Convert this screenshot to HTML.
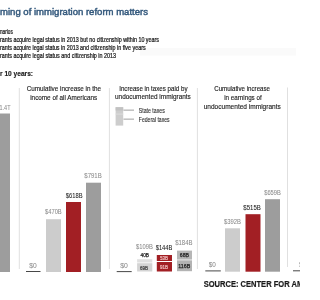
<!DOCTYPE html>
<html><head><meta charset="utf-8">
<style>
html,body{margin:0;padding:0;background:#fff;width:300px;height:300px;overflow:hidden}
svg{display:block;will-change:transform}
text{font-family:"Liberation Sans",sans-serif}
</style></head>
<body>
<svg width="300" height="300" viewBox="0 0 300 300">
<rect x="0" y="0" width="300" height="300" fill="#fff"/>
<rect x="140" y="48" width="156" height="7.5" fill="#fafafa"/>
<text x="0" y="15" textLength="148" lengthAdjust="spacingAndGlyphs" font-size="9.3" fill="#33587c" stroke="#33587c" stroke-width="0.45">ming of immigration reform matters</text>
<g font-size="6.5" fill="#161616" stroke="#161616" stroke-width="0.22">
<text x="0" y="33.6" textLength="12.8" lengthAdjust="spacingAndGlyphs" >narios</text>
<text x="0" y="41.8" textLength="159" lengthAdjust="spacingAndGlyphs" >rants acquire legal status in 2013 but no citizenship within 10 years</text>
<text x="0" y="49.5" textLength="145.6" lengthAdjust="spacingAndGlyphs" >rants acquire legal status in 2013 and citizenship in five years</text>
<text x="0" y="57.7" textLength="116" lengthAdjust="spacingAndGlyphs" >rants acquire legal status and citizenship in 2013</text>
</g>
<text x="0" y="75.7" textLength="33" lengthAdjust="spacingAndGlyphs" font-size="8" font-weight="bold" fill="#1a1a1a" stroke="#1a1a1a" stroke-width="0.15">r 10 years:</text>
<g fill="#e0e0e0">
<rect x="18.8" y="88" width="1" height="181"/>
<rect x="108.9" y="88" width="1" height="181"/>
<rect x="196.9" y="88" width="1" height="181"/>
<rect x="287" y="87.5" width="1" height="179.5"/>
</g>
<rect x="0" y="113.5" width="10" height="158.5" fill="#9d9d9d"/>
<g font-size="7.4" fill="#1e1e1e" stroke="#1e1e1e" stroke-width="0.15">
<text x="26.7" y="91.2" textLength="74.3" lengthAdjust="spacingAndGlyphs" >Cumulative increase in the</text>
<text x="30.2" y="99.5" textLength="67" lengthAdjust="spacingAndGlyphs" >income of all Americans</text>
<text x="119.2" y="91.3" textLength="68.3" lengthAdjust="spacingAndGlyphs" >Increase in taxes paid by</text>
<text x="115" y="99.2" textLength="75.8" lengthAdjust="spacingAndGlyphs" >undocumented immigrants</text>
<text x="214.2" y="91.2" textLength="55.8" lengthAdjust="spacingAndGlyphs" >Cumulative increase</text>
<text x="224.2" y="99.5" textLength="37.5" lengthAdjust="spacingAndGlyphs" >in earnings of</text>
<text x="203.7" y="108.7" textLength="77.1" lengthAdjust="spacingAndGlyphs" >undocumented immigrants</text>
</g>
<rect x="115.6" y="107.2" width="7.6" height="18.4" fill="#cdcdcd"/>
<rect x="115.6" y="107.2" width="7.6" height="3.3" fill="#c2c2c2"/>
<rect x="115.6" y="113.6" width="7.6" height="1" fill="#dcdcdc"/>
<rect x="123.5" y="109.7" width="10.5" height="0.8" fill="#888"/>
<rect x="123.5" y="118.7" width="10.5" height="0.8" fill="#888"/>
<g font-size="6.5" fill="#1e1e1e" stroke="#1e1e1e" stroke-width="0.08">
<text x="138.8" y="113" textLength="26" lengthAdjust="spacingAndGlyphs" >State taxes</text>
<text x="138.8" y="122" textLength="30.8" lengthAdjust="spacingAndGlyphs" >Federal taxes</text>
</g>
<g fill="#484848">
<rect x="26" y="271" width="14.5" height="1"/>
<rect x="116.7" y="271.1" width="15" height="1"/>
<rect x="205.3" y="270.4" width="15.5" height="1"/>
<rect x="293" y="270.3" width="7" height="1"/>
</g>
<rect x="46" y="219.2" width="15" height="52.80000000000001" fill="#cccccc"/>
<rect x="66" y="202" width="15" height="70" fill="#a21f24"/>
<rect x="86" y="182.7" width="15" height="89.30000000000001" fill="#9d9d9d"/>
<rect x="225" y="228.3" width="15" height="43.39999999999998" fill="#cccccc"/>
<rect x="245.5" y="214.2" width="15" height="57.5" fill="#a21f24"/>
<rect x="265" y="199.2" width="15" height="72.5" fill="#9d9d9d"/>
<rect x="137.1" y="259.2" width="15.2" height="3.3" fill="#e0e0e0"/>
<rect x="137.1" y="263.2" width="15.2" height="8.3" fill="#d4d4d4"/>
<rect x="156.8" y="255" width="15.2" height="6" fill="#a21f24"/>
<rect x="156.8" y="262" width="15.2" height="9.5" fill="#a21f24"/>
<rect x="177" y="250.6" width="15" height="9" fill="#b6b6b6"/>
<rect x="177" y="259.6" width="15" height="0.8" fill="#dadada"/>
<rect x="177" y="260.4" width="15" height="10.8" fill="#b3b3b3"/>
<g font-size="5.4">
<text x="140.6" y="256.5" textLength="8.4" lengthAdjust="spacingAndGlyphs" fill="#222" stroke="#222" stroke-width="0.25">40B</text>
<text x="140" y="269.7" textLength="8" lengthAdjust="spacingAndGlyphs" fill="#3a3a3a" stroke="#3a3a3a" stroke-width="0.22">69B</text>
<text x="160" y="260.1" textLength="8" lengthAdjust="spacingAndGlyphs" fill="#f2c4c4" stroke="#f2c4c4" stroke-width="0.18">53B</text>
<text x="160" y="268.6" textLength="8" lengthAdjust="spacingAndGlyphs" fill="#f2c4c4" stroke="#f2c4c4" stroke-width="0.18">91B</text>
<text x="179.8" y="257.3" textLength="9.2" lengthAdjust="spacingAndGlyphs" fill="#222" stroke="#222" stroke-width="0.25">68B</text>
<text x="178.2" y="267.5" textLength="12" lengthAdjust="spacingAndGlyphs" fill="#222" stroke="#222" stroke-width="0.25">116B</text>
</g>
<g font-size="6.7">
<text transform="translate(45,214.29999999999998) scale(1,1.12)" x="0" y="0" font-size="6.0" textLength="16.7" lengthAdjust="spacingAndGlyphs" fill="#8a8a8a" stroke="#8a8a8a" stroke-width="0.04">$470B</text>
<text transform="translate(65.8,197.60000000000002) scale(1,1.12)" x="0" y="0" font-size="6.0" textLength="16.7" lengthAdjust="spacingAndGlyphs" fill="#1a1a1a" stroke="#1a1a1a" stroke-width="0.05">$618B</text>
<text transform="translate(84.3,177.7) scale(1,1.12)" x="0" y="0" font-size="6.0" textLength="17.4" lengthAdjust="spacingAndGlyphs" fill="#8a8a8a" stroke="#8a8a8a" stroke-width="0.04">$791B</text>
<text transform="translate(29.3,267.8) scale(1,1.12)" x="0" y="0" font-size="6.0" textLength="7.4" lengthAdjust="spacingAndGlyphs" fill="#8a8a8a" stroke="#8a8a8a" stroke-width="0.04">$0</text>
<text transform="translate(120.2,268.1) scale(1,1.12)" x="0" y="0" font-size="6.0" textLength="7.6" lengthAdjust="spacingAndGlyphs" fill="#8a8a8a" stroke="#8a8a8a" stroke-width="0.04">$0</text>
<text transform="translate(208.7,267.1) scale(1,1.12)" x="0" y="0" font-size="6.0" textLength="7.1" lengthAdjust="spacingAndGlyphs" fill="#8a8a8a" stroke="#8a8a8a" stroke-width="0.04">$0</text>
<text transform="translate(136,248.79999999999998) scale(1,1.12)" x="0" y="0" font-size="6.0" textLength="16.8" lengthAdjust="spacingAndGlyphs" fill="#8a8a8a" stroke="#8a8a8a" stroke-width="0.04">$109B</text>
<text transform="translate(155.7,250.10000000000002) scale(1,1.12)" x="0" y="0" font-size="6.0" textLength="16.6" lengthAdjust="spacingAndGlyphs" fill="#1a1a1a" stroke="#1a1a1a" stroke-width="0.05">$144B</text>
<text transform="translate(175.2,245.1) scale(1,1.12)" x="0" y="0" font-size="6.0" textLength="17.3" lengthAdjust="spacingAndGlyphs" fill="#8a8a8a" stroke="#8a8a8a" stroke-width="0.04">$184B</text>
<text transform="translate(224,223.79999999999998) scale(1,1.12)" x="0" y="0" font-size="6.0" textLength="17" lengthAdjust="spacingAndGlyphs" fill="#8a8a8a" stroke="#8a8a8a" stroke-width="0.04">$392B</text>
<text transform="translate(243.3,209.8) scale(1,1.12)" x="0" y="0" font-size="6.0" textLength="17.5" lengthAdjust="spacingAndGlyphs" fill="#1a1a1a" stroke="#1a1a1a" stroke-width="0.05">$515B</text>
<text transform="translate(264.2,195.1) scale(1,1.12)" x="0" y="0" font-size="6.0" textLength="16.6" lengthAdjust="spacingAndGlyphs" fill="#8a8a8a" stroke="#8a8a8a" stroke-width="0.04">$659B</text>
<text transform="translate(-3.5,110.1) scale(1,1.12)" x="0" y="0" font-size="6.0" textLength="14.0" lengthAdjust="spacingAndGlyphs" fill="#8a8a8a" stroke="#8a8a8a" stroke-width="0.04">$1.4T</text>
</g>
<text x="299" y="267" font-size="6.3" fill="#8a8a8a">$</text>
<text x="203.7" y="287.1" textLength="99.5" lengthAdjust="spacingAndGlyphs" font-size="8.8" font-weight="bold" fill="#1a1a1a" stroke="#1a1a1a" stroke-width="0.2">SOURCE: CENTER FOR AM</text>
</svg>
</body></html>
